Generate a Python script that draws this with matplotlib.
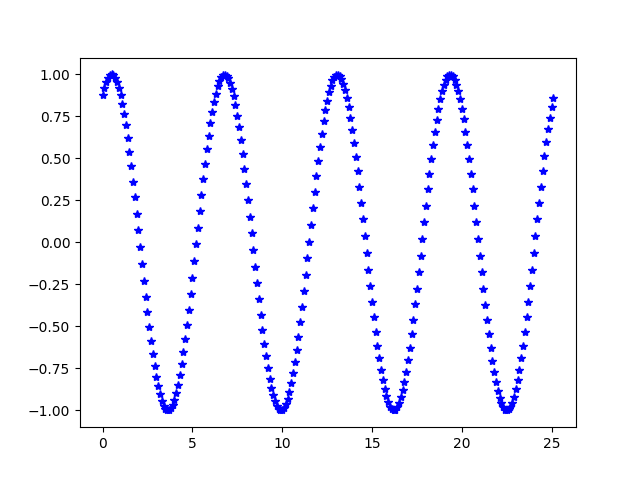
import numpy as np
import matplotlib
matplotlib.use("Agg")
import matplotlib.pyplot as plt

# samples, one list per cycle
y_cycle1 = [
    0.878, 0.921, 0.955, 0.980, 0.995, 1.000, 0.995, 0.980, 0.955, 0.921,
    0.878, 0.825, 0.765, 0.697, 0.622, 0.540, 0.454, 0.362, 0.268, 0.170,
    0.071, -0.029, -0.129, -0.227, -0.323, -0.416, -0.505, -0.589, -0.666, -0.737,
    -0.801, -0.857, -0.904, -0.942, -0.971, -0.990, -0.999, -0.998, -0.988, -0.967,
    -0.937, -0.897, -0.848, -0.791, -0.726, -0.654, -0.575, -0.490, -0.401, -0.307,
    -0.211, -0.112, -0.012, 0.088, 0.187, 0.284, 0.378, 0.469, 0.554, 0.635,
    0.709, 0.776, 0.835, 0.886, 0.928, 0.960, 0.983, 0.997,
]
y_cycle2 = [
    0.999, 0.993, 0.976, 0.950, 0.914, 0.869, 0.815, 0.753, 0.684, 0.608,
    0.526, 0.438, 0.347, 0.251, 0.153, 0.054, -0.046, -0.145, -0.243, -0.339,
    -0.431, -0.519, -0.602, -0.678, -0.748, -0.811, -0.865, -0.911, -0.947, -0.974,
    -0.992, -0.999, -0.997, -0.984, -0.962, -0.930, -0.889, -0.839, -0.780, -0.714,
    -0.640, -0.561, -0.475, -0.385, -0.291, -0.194, -0.095, 0.004, 0.104, 0.203,
    0.300, 0.393, 0.483, 0.568, 0.647, 0.720, 0.786, 0.843, 0.893, 0.933,
    0.964, 0.986, 0.997,
]
y_cycle3 = [
    0.998, 0.990, 0.972, 0.944, 0.907, 0.860, 0.805, 0.742, 0.672, 0.594,
    0.511, 0.423, 0.331, 0.235, 0.137, 0.037, -0.063, -0.162, -0.260, -0.355,
    -0.446, -0.533, -0.615, -0.690, -0.759, -0.820, -0.873, -0.917, -0.952, -0.977,
    -0.993, -0.999, -0.995, -0.981, -0.957, -0.923, -0.880, -0.829, -0.769, -0.702,
    -0.627, -0.546, -0.460, -0.369, -0.275, -0.178, -0.079, 0.021, 0.121, 0.219,
    0.315, 0.408, 0.497, 0.581, 0.660, 0.731, 0.796, 0.852, 0.900, 0.939,
    0.968, 0.988, 0.999,
]
y_cycle4 = [
    0.999, 0.989, 0.969, 0.939, 0.901, 0.853, 0.796, 0.732, 0.660, 0.582,
    0.498, 0.409, 0.315, 0.219, 0.120, 0.020, -0.079, -0.178, -0.276, -0.370,
    -0.461, -0.547, -0.628, -0.703, -0.770, -0.830, -0.882, -0.924, -0.958, -0.982,
    -0.996, -1.000, -0.994, -0.978, -0.953, -0.918, -0.874, -0.821, -0.759, -0.690,
    -0.615, -0.533, -0.446, -0.354, -0.259, -0.162, -0.062, 0.038, 0.137, 0.235,
    0.331, 0.424, 0.512, 0.595, 0.673, 0.743, 0.806, 0.861,
]

y = np.array(y_cycle1 + y_cycle2 + y_cycle3 + y_cycle4)
# evenly spaced sample positions, 0.1 apart
x = np.arange(len(y)) * 0.1

plt.figure(figsize=(6.4, 4.8), dpi=100)
plt.plot(x, y, 'b*')
plt.savefig("out.png", dpi=100)
